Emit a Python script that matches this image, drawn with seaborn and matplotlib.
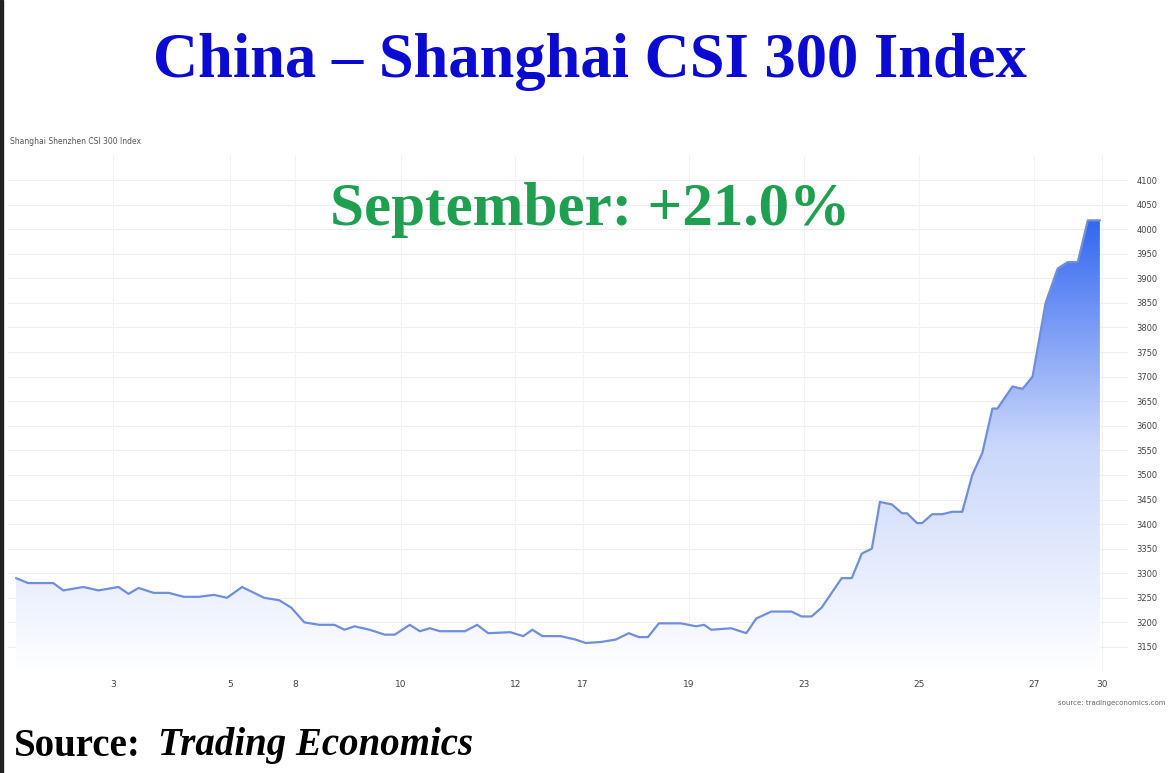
import numpy as np
import matplotlib
matplotlib.use("Agg")
import matplotlib.pyplot as plt
import seaborn as sns
from matplotlib.colors import LinearSegmentedColormap

# time position (trading-session units) and index value
t = [0.8, 2.0, 3.5, 4.5, 5.5, 7.5, 9.0, 11.0, 12.0, 13.0, 14.5, 16.0, 17.5, 19.0, 20.5,
     21.8, 23.3, 25.5, 27.0, 28.2, 29.5, 31.0, 32.5, 33.5, 34.5, 36.0, 37.5, 38.5, 40.0,
     41.0, 42.0, 43.0, 45.5, 46.7, 47.8, 50.0, 51.3, 52.2, 53.2, 55.0, 56.5, 57.5, 59.0,
     60.5, 61.8, 62.8, 63.7, 64.8, 67.0, 68.5, 69.3, 70.0, 72.0, 73.5, 74.5, 76.0, 78.0,
     79.0, 80.0, 81.0, 82.0, 83.0, 84.0, 85.0, 86.0, 86.8, 88.0, 89.0, 89.5, 90.5, 91.0,
     92.0, 93.0, 94.0, 95.0, 96.0, 97.0, 98.0, 98.5, 100.0, 101.0, 102.0, 103.3, 104.5,
     105.5, 106.5, 107.5, 108.7]
values = [3290, 3280, 3280, 3280, 3265, 3272, 3265, 3272, 3258, 3270, 3260, 3260, 3252,
          3252, 3256, 3250, 3272, 3250, 3245, 3230, 3200, 3195, 3195, 3185, 3192, 3185,
          3175, 3175, 3195, 3182, 3188, 3182, 3182, 3195, 3178, 3180, 3172, 3185, 3172,
          3172, 3165, 3158, 3160, 3165, 3178, 3170, 3170, 3198, 3198, 3192, 3195, 3185,
          3188, 3178, 3208, 3222, 3222, 3212, 3212, 3230, 3260, 3290, 3290, 3340, 3350,
          3445, 3440, 3422, 3422, 3402, 3402, 3420, 3420, 3425, 3425, 3500, 3545, 3635,
          3635, 3680, 3675, 3700, 3850, 3920, 3933, 3933, 4018, 4018]
tick_pos = [10.5, 22.1, 28.6, 39.1, 50.5, 57.2, 67.8, 79.2, 90.7, 102.1, 108.9]
tick_labels = ["3", "5", "8", "10", "12", "17", "19", "23", "25", "27", "30"]
y_ticks = list(range(3150, 4101, 50))

sns.set_theme(style="white")
fig = plt.figure(figsize=(11.72, 7.73), dpi=100)
fig.patch.set_facecolor("white")
ax = fig.add_axes([8/1172, 1-672/773, (1128-8)/1172, (672-155)/773])
ax.set_xlim(0.0, 111.5)
ax.set_ylim(3099, 4151)

for y in y_ticks:
    ax.axhline(y, color="#eeeeee", lw=0.8, zorder=0)
for x in tick_pos:
    ax.axvline(x, color="#f2f2f2", lw=0.8, zorder=0)

cmap = LinearSegmentedColormap.from_list("g", ["#ffffff", "#c9d6fb", "#2f64f0"])
grad = np.linspace(0, 1, 256).reshape(-1, 1)
im = ax.imshow(grad, extent=[min(t), max(t), 3099, 4030], origin="lower",
               aspect="auto", cmap=cmap, zorder=1)
poly = ax.fill_between(t, values, 3099, color="none")
path = poly.get_paths()[0]
im.set_clip_path(path, transform=ax.transData)
sns.lineplot(x=t, y=values, ax=ax, color="#6f8fdc", lw=1.6, zorder=2)

ax.yaxis.tick_right()
ax.set_yticks(y_ticks)
ax.set_yticklabels([str(v) for v in y_ticks], fontsize=6, color="#444444")
ax.set_xticks(tick_pos)
ax.set_xticklabels(tick_labels, fontsize=6.5, color="#444444")
ax.tick_params(length=0, pad=6)
for s in ax.spines.values():
    s.set_visible(False)

fig.text(590/1172, 1-62/773, "China – Shanghai CSI 300 Index", ha="center", va="center",
         fontsize=45, fontweight="bold", family="Liberation Serif", color="#0a0ad2")
fig.text(590/1172, 1-210/773, "September: +21.0%", ha="center", va="center",
         fontsize=44, fontweight="bold", family="Liberation Serif", color="#1ea050")
fig.text(10/1172, 1-142/773, "Shanghai Shenzhen CSI 300 Index", ha="left", va="center",
         fontsize=5.5, color="#555555")
fig.text(1166/1172, 1-703/773, "source: tradingeconomics.com", ha="right", va="center",
         fontsize=5, color="#666666")
fig.text(14/1172, 1-746/773, "Source:", ha="left", va="center", fontsize=28,
         fontweight="bold", family="Liberation Serif", color="black")
fig.text(158/1172, 1-746/773, "Trading Economics", ha="left", va="center", fontsize=28,
         fontweight="bold", fontstyle="italic", family="Liberation Serif", color="black")
fig.add_artist(plt.Rectangle((0, 0), 3/1172, 1, transform=fig.transFigure,
                             color="#222222"))
fig.savefig("out.png", dpi=100)
